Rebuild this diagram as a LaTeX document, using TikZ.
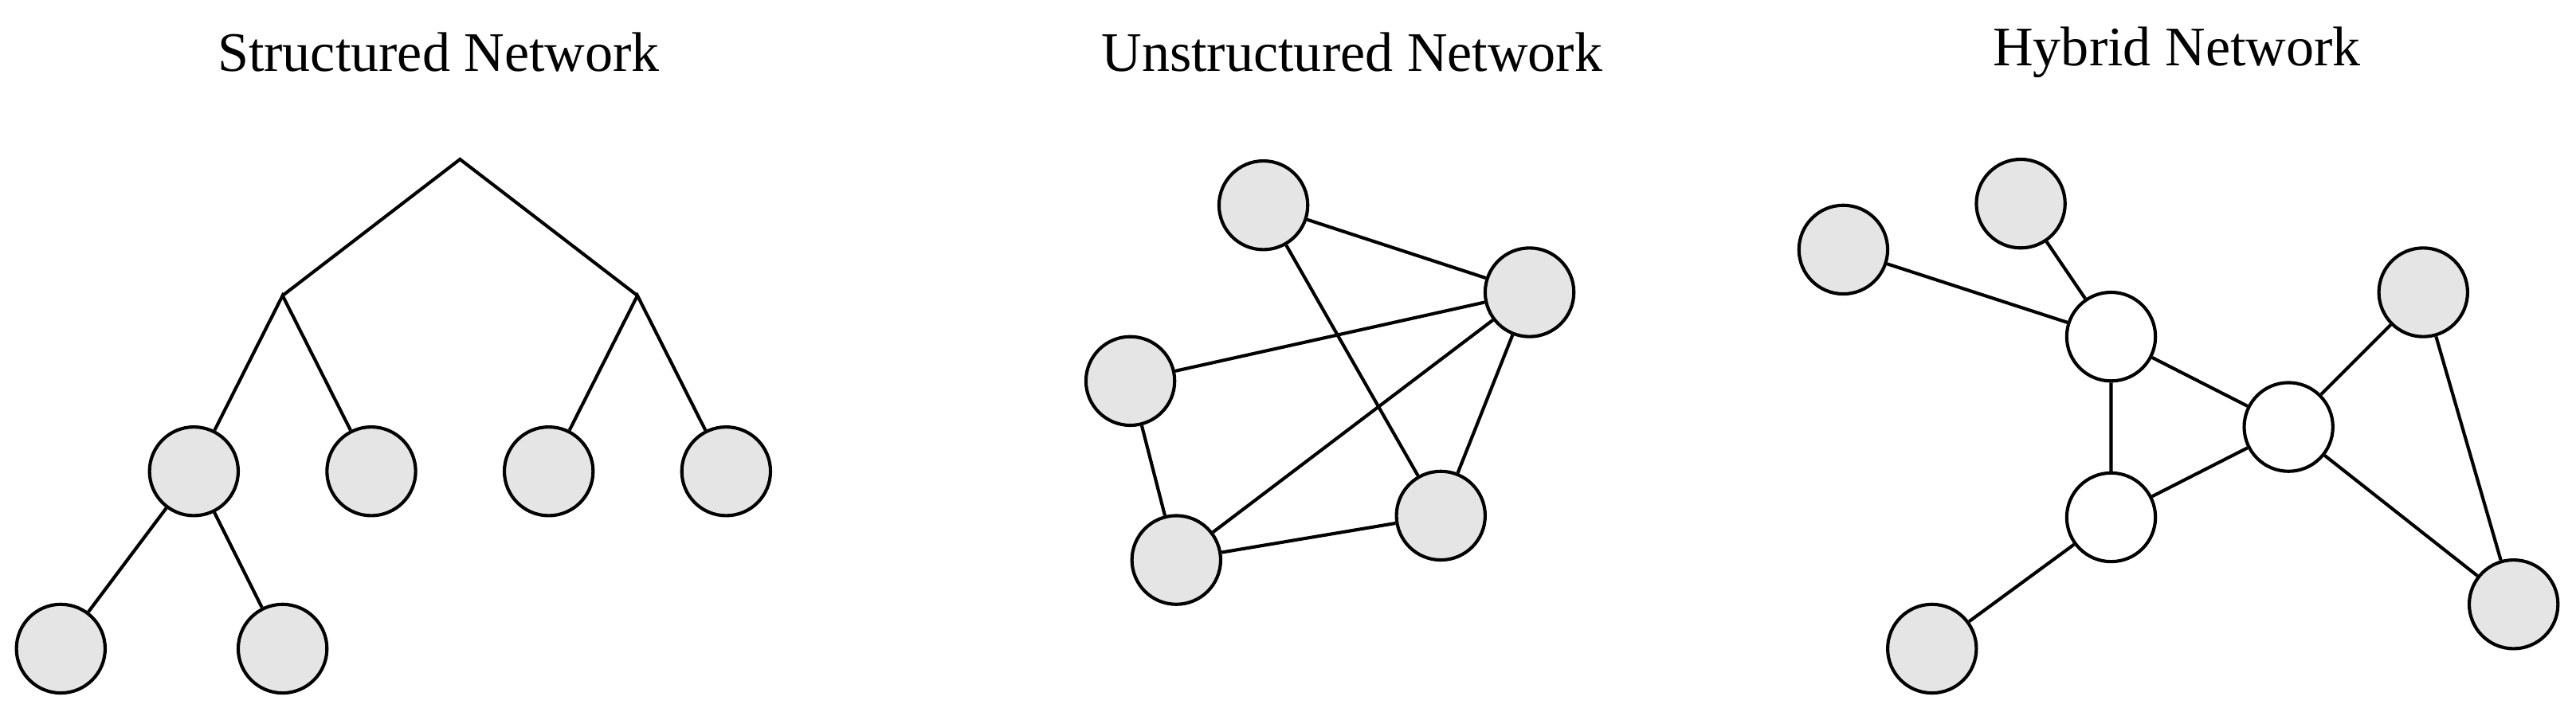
\documentclass[tikz,border=0pt]{standalone}
\usepackage{fontspec}
\setmainfont{Liberation Serif}
\begin{document}
\begin{tikzpicture}[x=1pt,y=-1pt,
  gn/.style={circle,draw,line width=2pt,fill=gray!20,minimum size=54pt,inner sep=0pt},
  wn/.style={circle,draw,line width=2pt,fill=white,minimum size=54pt,inner sep=0pt},
  ln/.style={line width=2pt},
  ttl/.style={font=\fontsize{34}{40}\selectfont}]
\useasboundingbox (0,0) rectangle (1568,438);
\node[ttl] (t1) at (267,32) {Structured Network};
\node[ttl] (t2) at (823,32) {Unstructured Network};
\node[ttl] (t3) at (1325,32) {Hybrid Network};
% structured
\coordinate (r) at (280,97);
\coordinate (l) at (172,180);
\coordinate (rr) at (388,180);
\node[gn] (s1) at (118,287) {};
\node[gn] (s2) at (226,287) {};
\node[gn] (s3) at (334,287) {};
\node[gn] (s4) at (442,287) {};
\node[gn] (s5) at (37,395) {};
\node[gn] (s6) at (172,395) {};
\draw[ln] (l) -- (r) -- (rr);
\draw[ln] (s1) -- (l) -- (s2);
\draw[ln] (s3) -- (rr) -- (s4);
\draw[ln] (s5) -- (s1) -- (s6);
% unstructured
\node[gn] (a) at (769,125) {};
\node[gn] (b) at (931,178) {};
\node[gn] (c) at (688,232) {};
\node[gn] (d) at (716,341) {};
\node[gn] (e) at (877,314) {};
\draw[ln] (a)--(b) (a)--(e) (c)--(b) (c)--(d) (d)--(e) (d)--(b) (e)--(b);
% hybrid
\node[gn] (g1) at (1122,152) {};
\node[gn] (g2) at (1230,124) {};
\node[gn] (g3) at (1475,178) {};
\node[gn] (g4) at (1530,368) {};
\node[gn] (g5) at (1176,395) {};
\node[wn] (w1) at (1285,205) {};
\node[wn] (w2) at (1393,260) {};
\node[wn] (w3) at (1285,315) {};
\draw[ln] (g1)--(w1) (g2)--(w1) (w1)--(w2) (w1)--(w3) (w3)--(w2) (w2)--(g3) (w2)--(g4) (g3)--(g4) (g5)--(w3);
\end{tikzpicture}
\end{document}
